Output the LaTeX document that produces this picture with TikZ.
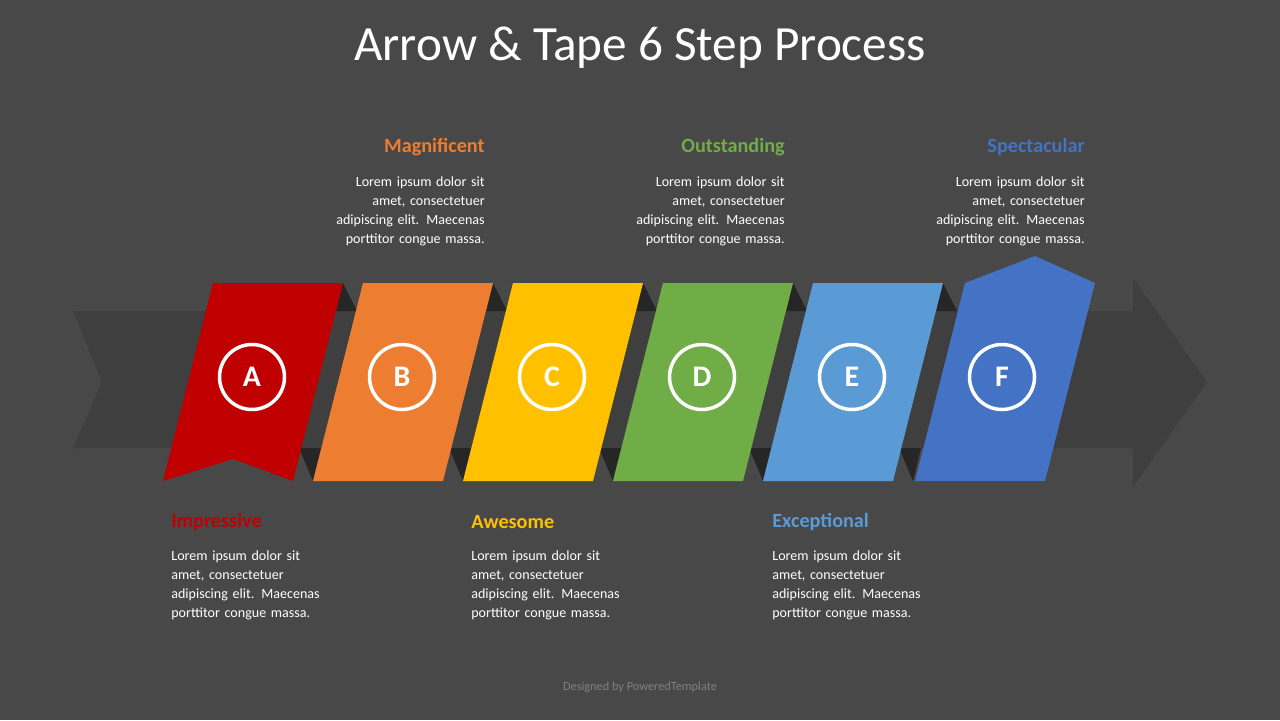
\documentclass[tikz,border=0pt]{standalone}
\usepackage{fontspec}
\setmainfont{Carlito}
\definecolor{bgcol}{HTML}{484848}
\definecolor{arrowcol}{HTML}{3F3F3F}
\definecolor{shadowcol}{HTML}{262626}
\definecolor{colA}{HTML}{C00000}
\definecolor{colB}{HTML}{ED7D31}
\definecolor{colC}{HTML}{FFC000}
\definecolor{colD}{HTML}{70AD47}
\definecolor{colE}{HTML}{5B9BD5}
\definecolor{colF}{HTML}{4472C4}
\begin{document}
\begin{tikzpicture}[
        x=0.02cm, y=-0.02cm,
        badge/.style={circle, draw=white, line width=2pt, minimum size=1.3cm, text=white, font=\fontsize{17}{17}\selectfont\bfseries},
        heading/.style={font=\fontsize{11.5}{12}\selectfont\bfseries, inner sep=0pt},
        bodytext/.style={text=white, font=\fontsize{8}{10.8}\selectfont, inner sep=0pt, text width=3.4cm}
    ]
        % Background
        \fill[bgcol] (0,0) rectangle (1280,720);
        \node[text=white, font=\fontsize{28}{28}\selectfont] (title) at (640,48) {Arrow \& Tape 6 Step Process};

        % Big arrow
        \fill[arrowcol] (73,311) -- (1133,311) -- (1133,278) -- (1207,382) -- (1133,487) -- (1133,448) -- (73,448) -- (102,382) -- cycle;

        % Shadows
        \foreach \x in {343,493,643,793,943} {
            \fill[shadowcol] (\x,283) -- (\x+14,311) -- (\x-7,311) -- cycle;
            \fill[shadowcol] (\x-44,448) -- (\x-22,448) -- (\x-30,481) -- cycle;
        }

        % Tapes
        \fill[colA] (213,283) -- (343,283) -- (293,481) -- (233,459) -- (163,481) -- cycle;
        \fill[colB] (363,283) -- (493,283) -- (443,481) -- (313,481) -- cycle;
        \fill[colC] (513,283) -- (643,283) -- (593,481) -- (463,481) -- cycle;
        \fill[colD] (663,283) -- (793,283) -- (743,481) -- (613,481) -- cycle;
        \fill[colE] (813,283) -- (943,283) -- (893,481) -- (763,481) -- cycle;
        \fill[colF] (965,283) -- (1035,256) -- (1095,283) -- (1045,481) -- (915,481) -- cycle;

        % Letters
        \node[badge] (a) at (252,377) {A};
        \node[badge] (b) at (402,377) {B};
        \node[badge] (c) at (552,377) {C};
        \node[badge] (d) at (702,377) {D};
        \node[badge] (e) at (852,377) {E};
        \node[badge] (f) at (1002,377) {F};

        % Upper texts
        \node[heading, text=colB, anchor=east] (magnificent) at (485,147) {Magnificent};
        \node[bodytext, align=right, anchor=north east] (magnificent-text) at (485,176) {Lorem ipsum dolor sit\\amet, consectetuer\\adipiscing elit. Maecenas\\porttitor congue massa.};
        \node[heading, text=colD, anchor=east] (outstanding) at (785,147) {Outstanding};
        \node[bodytext, align=right, anchor=north east] (outstanding-text) at (785,176) {Lorem ipsum dolor sit\\amet, consectetuer\\adipiscing elit. Maecenas\\porttitor congue massa.};
        \node[heading, text=colF, anchor=east] (spectacular) at (1085,147) {Spectacular};
        \node[bodytext, align=right, anchor=north east] (spectacular-text) at (1085,176) {Lorem ipsum dolor sit\\amet, consectetuer\\adipiscing elit. Maecenas\\porttitor congue massa.};

        % Lower texts
        \node[heading, text=colA, anchor=west] (impressive) at (171,522) {Impressive};
        \node[bodytext, align=left, anchor=north west] (impressive-text) at (171,550) {Lorem ipsum dolor sit\\amet, consectetuer\\adipiscing elit. Maecenas\\porttitor congue massa.};
        \node[heading, text=colC, anchor=west] (awesome) at (471,522) {Awesome};
        \node[bodytext, align=left, anchor=north west] (awesome-text) at (471,550) {Lorem ipsum dolor sit\\amet, consectetuer\\adipiscing elit. Maecenas\\porttitor congue massa.};
        \node[heading, text=colE, anchor=west] (exceptional) at (772,522) {Exceptional};
        \node[bodytext, align=left, anchor=north west] (exceptional-text) at (772,550) {Lorem ipsum dolor sit\\amet, consectetuer\\adipiscing elit. Maecenas\\porttitor congue massa.};

        % Footer
        \node[text=gray, font=\fontsize{7}{7}\selectfont] (footer) at (640,687) {Designed by PoweredTemplate};
    \end{tikzpicture}
\end{document}
